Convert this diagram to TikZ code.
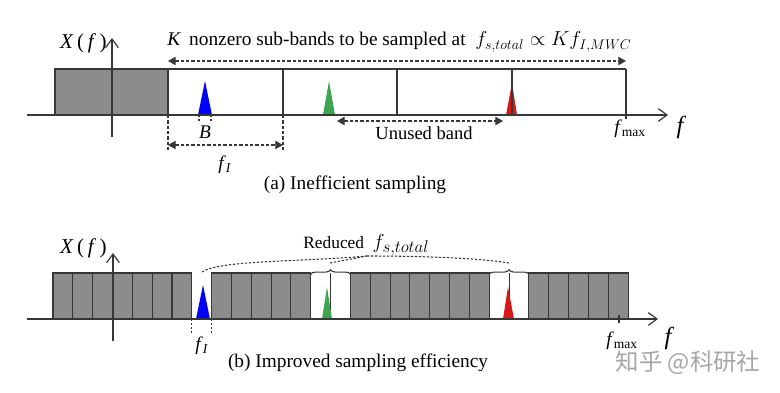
\documentclass[tikz,border=0pt]{standalone}
\usepackage{fontspec}
\setmainfont{Liberation Serif}
\newfontfamily\cjkfont{Noto Sans CJK SC}
\usetikzlibrary{arrows.meta,decorations.pathreplacing,positioning}
\definecolor{bandgrey}{RGB}{140,140,140}
\definecolor{edgegrey}{RGB}{55,55,55}
\definecolor{peakgreen}{RGB}{60,165,80}
\definecolor{peakred}{RGB}{215,25,25}
\tikzset{
  lbl/.style={font=\fontsize{16.5}{19}\selectfont, inner sep=1pt},
  smalllbl/.style={font=\fontsize{14.8}{17}\selectfont, inner sep=1pt},
  axis/.style={line width=1pt, edgegrey, -{Straight Barb[length=2.6mm,width=3.8mm]}},
  edge/.style={line width=0.9pt, edgegrey},
  cell/.style={edge, fill=bandgrey},
  dimline/.style={line width=0.9pt, edgegrey, dash pattern=on 1mm off 0.6mm},
  dimarrow/.style={dimline, {Triangle[length=2.3mm,width=2.5mm]}-{Triangle[length=2.3mm,width=2.5mm]}},
  hint/.style={line width=0.9pt, edgegrey, dash pattern=on 0.7mm off 0.5mm}
}
\begin{document}
\begin{tikzpicture}[x=0.3mm, y=-0.3mm]
\useasboundingbox (0,0) rectangle (780,393);

% (a) inefficient sampling
\coordinate (a0) at (168,115);
\coordinate (a1) at (283,115);
\coordinate (a2) at (397,115);
\coordinate (a3) at (512,115);
\coordinate (a4) at (626,115);
\fill[bandgrey] (55,115) rectangle (168,69);
\draw[edge] (55,115) -- (55,69) -- (626,69);
\foreach \c in {a0,a1,a2,a3,a4}
  \draw[edge] (\c) -- (\c |- 0,69);
\fill[blue] (198,115) -- (205,81) -- (212,115) -- cycle;
\fill[peakgreen] (323,115) -- (329,81) -- (335,115) -- cycle;
\fill[peakred] (506,115) -- (512,83) -- (517,115) -- cycle;
\draw[edge] (a3) -- (a3 |- 0,69);
\draw[axis] (27,115) -- (668,115);
\draw[axis] (112,137) -- (112,38);
\draw[edge] (626,111) -- (626,119);

\node[lbl, font=\fontsize{18}{20}\selectfont, anchor=south east] (xa) at (108,54) {\textit{X}\,(\,\textit{f}\,)};
\node[lbl, anchor=base west] (ktitle) at (166,46)
  {\textit{K}\, nonzero sub-bands to be sampled at \ {\fontsize{17.5}{20}\selectfont$f_{s,total}\propto K f_{I,MWC}$}};
\draw[dimarrow] (168,61) -- (626,61);

\draw[dimline] (a0) -- ++(0,37) coordinate (a0b);
\draw[dimline] (a1) -- ++(0,37) coordinate (a1b);
\draw[dimarrow] (a0 |- 0,145) -- (a1 |- 0,145);
\node[lbl] (fia) at (225,165) {\textit{f}\textsubscript{\textit{I}}};
\draw[hint] (199,115) -- (199,123);
\draw[hint] (211,115) -- (211,123);
\node[lbl] (bw) at (205,132) {\textit{B}};
\draw[dimarrow] (337,121) -- (503,121);
\node[lbl, font=\fontsize{15.8}{18}\selectfont] (unused) at (424,133) {Unused band};
\node[lbl] (fmaxa) at (630,129) {\textit{f}\textsubscript{max}};
\node[lbl, font=\fontsize{21}{23}\selectfont\itshape] (fa) at (680,127) {f};
\node[lbl] (capa) at (355,185) {(a) Inefficient sampling};

% (b) improved sampling efficiency
\foreach \i in {0,...,6,8,9,...,12,15,16,...,21,24,25,...,28}
  \draw[cell] ({53+\i*19.83},319) rectangle ++(19.83,-46);
\coordinate (w0) at ({53+7*19.83},319);
\coordinate (w1) at ({53+8*19.83},319);
\coordinate (g0) at ({53+13*19.83},273);
\coordinate (g1) at ({53+15*19.83},273);
\coordinate (r0) at ({53+22*19.83},273);
\coordinate (r1) at ({53+24*19.83},273);
\draw[edge] ({53+14*19.83},319) -- ++(0,-46);
\draw[edge] ({53+23*19.83},319) -- ++(0,-46);
\fill[blue] (196,319) -- (203,285) -- (210,319) -- cycle;
\fill[peakgreen] (322,319) -- (327,287) -- (332,319) -- cycle;
\fill[peakred] (503,319) -- (508,287) -- (514,319) -- cycle;
\draw[axis] (27,319) -- (658,319);
\draw[axis] (113,341) -- (113,253);
\draw[edge] (619,315) -- (619,323);

\node[lbl, font=\fontsize{18}{20}\selectfont, anchor=south east] (xb) at (108,259) {\textit{X}\,(\,\textit{f}\,)};
\draw[hint] (w0) -- ++(0,14);
\draw[hint] (w1) -- ++(0,14);
\node[lbl] (fib) at (202,346) {\textit{f}\textsubscript{\textit{I}}};
\node[lbl] (fmaxb) at (622,341) {\textit{f}\textsubscript{max}};
\node[lbl, font=\fontsize{21}{23}\selectfont\itshape] (fb) at (668,338) {f};
\node[lbl] (capb) at (358,363) {(b) Improved sampling efficiency};

\draw[edge, decorate, decoration={brace, amplitude=4pt}] ([yshift=-1.2]g0) -- ([yshift=-1.2]g1) coordinate[pos=0.5] (gtip);
\draw[edge, decorate, decoration={brace, amplitude=4pt}] ([yshift=-1.2]r0) -- ([yshift=-1.2]r1) coordinate[pos=0.5] (rtip);
\node[smalllbl, anchor=base west] (reduced) at (302,248) {Reduced \ {\fontsize{19}{21}\selectfont$f_{s,total}$}};
\coordinate (meet) at (367,256);
\draw[hint] (202,272) .. controls (220,260) and (300,262) .. (meet);
\draw[hint] (330,263) -- (meet);
\draw[hint] (509,263) .. controls (480,258) and (420,256) .. (meet);

\node[font=\cjkfont\fontsize{20}{22}\selectfont, text=black!35] (mark) at (688,363) {知乎 @科研社};
\end{tikzpicture}
\end{document}
